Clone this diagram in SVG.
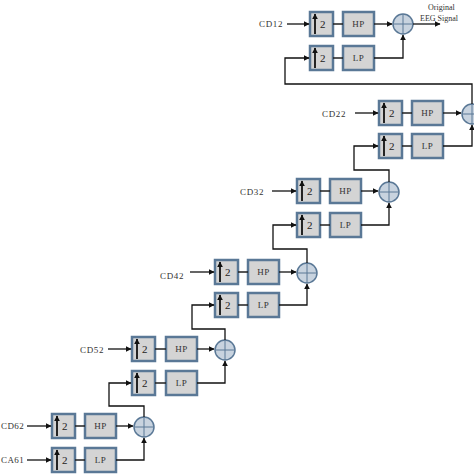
<svg xmlns="http://www.w3.org/2000/svg" width="474" height="474" viewBox="0 0 474 474">
<defs>
<marker id="ah" viewBox="0 0 10 10" refX="9" refY="5" markerWidth="6" markerHeight="6" markerUnits="userSpaceOnUse" orient="auto">
<path d="M0,0 L10,5 L0,10 z" fill="#111"/>
</marker>
<marker id="ua" viewBox="0 0 10 10" refX="9" refY="5" markerWidth="6" markerHeight="6" markerUnits="userSpaceOnUse" orient="auto">
<path d="M0,0 L10,5 L0,10 z" fill="#111"/>
</marker>
</defs>
<style>
.up{fill:#d4d4d4;stroke:#5a7896;stroke-width:2.5}
.flt{fill:#d4d4d4;stroke:#5a7896;stroke-width:2.5}
.sum{fill:#c8d3df;stroke:#5a7896;stroke-width:1.5}
.cross{stroke:#5a7896;stroke-width:1}
.ln{fill:none;stroke:#222;stroke-width:1.3}
.arr{fill:none;stroke:#111;stroke-width:1.3;marker-end:url(#ah)}
.uarr{fill:none;stroke:#111;stroke-width:1.8;marker-end:url(#ua)}
.t{font-family:"Liberation Serif",serif;font-size:9px;fill:#333;letter-spacing:0.6px;text-anchor:end}
.ts{font-family:"Liberation Serif",serif;font-size:9px;fill:#333;letter-spacing:0.4px}
.bt{font-family:"Liberation Serif",serif;font-size:9px;fill:#333;text-anchor:middle;letter-spacing:0.5px}
.two{font-family:"Liberation Serif",serif;font-size:11px;fill:#222}
.o{font-family:"Liberation Serif",serif;font-size:8px;fill:#333}
</style>

<!-- Stage 1 -->
<g id="stage1">
<rect class="up" x="310" y="12" width="23" height="24"/>
<path class="uarr" d="M315,34 V14"/>
<text class="two" x="320" y="28">2</text>
<rect class="flt" x="343" y="12" width="31" height="24"/>
<text class="bt" x="358.5" y="27">HP</text>
<rect class="up" x="310" y="46" width="23" height="24"/>
<path class="uarr" d="M315,68 V48"/>
<text class="two" x="320" y="62">2</text>
<rect class="flt" x="343" y="46" width="31" height="24"/>
<text class="bt" x="358.5" y="61">LP</text>
<circle class="sum" cx="403" cy="24" r="10"/>
<path class="cross" d="M393,24 H413 M403,14 V34"/>
<text class="t" x="283" y="27">CD12</text>
</g>

<!-- Stage 2 -->
<g id="stage2">
<rect class="up" x="379" y="101" width="23" height="24"/>
<path class="uarr" d="M384,123 V103"/>
<text class="two" x="389" y="117">2</text>
<rect class="flt" x="412" y="101" width="31" height="24"/>
<text class="bt" x="427.5" y="116">HP</text>
<rect class="up" x="379" y="134" width="23" height="24"/>
<path class="uarr" d="M384,156 V136"/>
<text class="two" x="389" y="150">2</text>
<rect class="flt" x="412" y="134" width="31" height="24"/>
<text class="bt" x="427.5" y="149">LP</text>
<circle class="sum" cx="472" cy="114" r="10"/>
<path class="cross" d="M462,114 H482 M472,104 V124"/>
<text class="t" x="346" y="117">CD22</text>
</g>

<!-- Stage 3 -->
<g id="stage3">
<rect class="up" x="297" y="179" width="23" height="24"/>
<path class="uarr" d="M302,201 V181"/>
<text class="two" x="307" y="195">2</text>
<rect class="flt" x="330" y="179" width="31" height="24"/>
<text class="bt" x="345.5" y="194">HP</text>
<rect class="up" x="297" y="213" width="23" height="24"/>
<path class="uarr" d="M302,235 V215"/>
<text class="two" x="307" y="229">2</text>
<rect class="flt" x="330" y="213" width="31" height="24"/>
<text class="bt" x="345.5" y="228">LP</text>
<circle class="sum" cx="389" cy="192" r="10"/>
<path class="cross" d="M379,192 H399 M389,182 V202"/>
<text class="t" x="264" y="195">CD32</text>
</g>

<!-- Stage 4 -->
<g id="stage4">
<rect class="up" x="215" y="260" width="23" height="24"/>
<path class="uarr" d="M220,282 V262"/>
<text class="two" x="225" y="276">2</text>
<rect class="flt" x="248" y="260" width="31" height="24"/>
<text class="bt" x="263.5" y="275">HP</text>
<rect class="up" x="215" y="293" width="23" height="24"/>
<path class="uarr" d="M220,315 V295"/>
<text class="two" x="225" y="309">2</text>
<rect class="flt" x="248" y="293" width="31" height="24"/>
<text class="bt" x="263.5" y="308">LP</text>
<circle class="sum" cx="307" cy="273" r="10"/>
<path class="cross" d="M297,273 H317 M307,263 V283"/>
<text class="t" x="184" y="279">CD42</text>
</g>

<!-- Stage 5 -->
<g id="stage5">
<rect class="up" x="132" y="337" width="23" height="24"/>
<path class="uarr" d="M137,359 V339"/>
<text class="two" x="142" y="353">2</text>
<rect class="flt" x="166" y="337" width="31" height="24"/>
<text class="bt" x="181.5" y="352">HP</text>
<rect class="up" x="132" y="371" width="23" height="24"/>
<path class="uarr" d="M137,393 V373"/>
<text class="two" x="142" y="387">2</text>
<rect class="flt" x="166" y="371" width="31" height="24"/>
<text class="bt" x="181.5" y="386">LP</text>
<circle class="sum" cx="225" cy="350" r="10"/>
<path class="cross" d="M215,350 H235 M225,340 V360"/>
<text class="t" x="104" y="353">CD52</text>
</g>

<!-- Stage 6 -->
<g id="stage6">
<rect class="up" x="52" y="414" width="23" height="24"/>
<path class="uarr" d="M57,436 V416"/>
<text class="two" x="62" y="430">2</text>
<rect class="flt" x="85" y="414" width="31" height="24"/>
<text class="bt" x="100.5" y="429">HP</text>
<rect class="up" x="52" y="448" width="23" height="24"/>
<path class="uarr" d="M57,470 V450"/>
<text class="two" x="62" y="464">2</text>
<rect class="flt" x="85" y="448" width="31" height="24"/>
<text class="bt" x="100.5" y="463">LP</text>
<circle class="sum" cx="144" cy="427" r="10"/>
<path class="cross" d="M134,427 H154 M144,417 V437"/>
<text class="ts" x="1" y="429">CD62</text>
<text class="ts" x="1" y="463">CA61</text>
</g>

<g id="output-label">
<text class="o" x="428" y="10">Original</text>
<text class="o" x="420" y="21">EEG Signal</text>
</g>

<g id="connectors">
<!-- stage 1 -->
<path class="arr" d="M287,24 H309"/>
<path class="ln" d="M333,24 H343 M333,58 H343"/>
<path class="arr" d="M374,24 H392"/>
<path class="arr" d="M374,58 H403 V35"/>
<path class="arr" d="M413,24 H440"/>
<!-- stage 2 -->
<path class="arr" d="M355,113 H378"/>
<path class="ln" d="M402,113 H412 M402,146 H412"/>
<path class="arr" d="M443,113 H461"/>
<path class="arr" d="M443,146 H472 V125"/>
<path class="arr" d="M472,104 V84 H285 V58 H309"/>
<!-- stage 3 -->
<path class="arr" d="M272,191 H296"/>
<path class="ln" d="M320,191 H330 M320,225 H330"/>
<path class="arr" d="M361,191 H378"/>
<path class="arr" d="M361,225 H389 V203"/>
<path class="arr" d="M389,182 V170 H354 V146 H378"/>
<!-- stage 4 -->
<path class="arr" d="M190,272 H214"/>
<path class="ln" d="M238,272 H248 M238,305 H248"/>
<path class="arr" d="M279,272 H296"/>
<path class="arr" d="M279,305 H307 V284"/>
<path class="arr" d="M307,263 V249 H273 V225 H296"/>
<!-- stage 5 -->
<path class="arr" d="M108,349 H131"/>
<path class="ln" d="M155,349 H166 M155,383 H166"/>
<path class="arr" d="M197,349 H214"/>
<path class="arr" d="M197,383 H225 V361"/>
<path class="arr" d="M225,340 V329 H192 V305 H214"/>
<!-- stage 6 -->
<path class="arr" d="M27,426 H51"/>
<path class="arr" d="M27,460 H51"/>
<path class="ln" d="M75,426 H85 M75,460 H85"/>
<path class="arr" d="M116,426 H133"/>
<path class="arr" d="M116,460 H144 V438"/>
<path class="arr" d="M144,417 V406 H109 V383 H131"/>
</g>
</svg>
